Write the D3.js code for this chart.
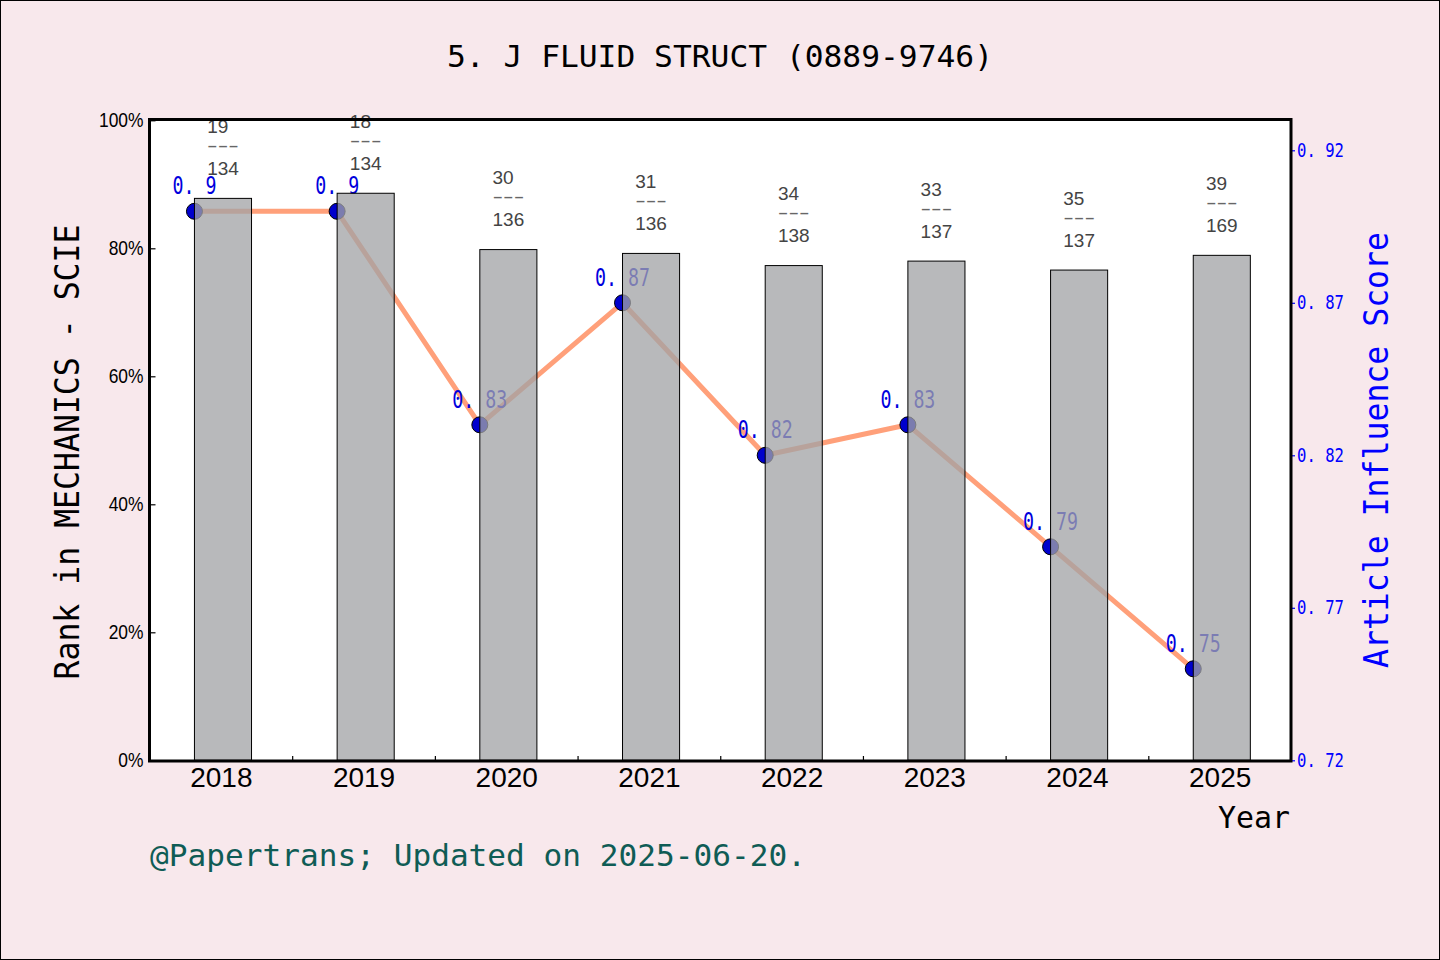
<!DOCTYPE html>
<html><head><meta charset="utf-8">
<script src="https://cdn.jsdelivr.net/npm/d3@7"></script>
<style>html,body{margin:0;padding:0;background:#f8e8ec;} svg{display:block}</style>
</head><body>
<svg id="c" width="1440" height="960"></svg>
<script>
// ---- data ----
const years = [2018, 2019, 2020, 2021, 2022, 2023, 2024, 2025];
const rankPct = [87.8, 88.6, 79.8, 79.2, 77.3, 78.0, 76.6, 78.9];
const rankNum = [19, 18, 30, 31, 34, 33, 35, 39];
const rankTotal = [134, 134, 136, 136, 138, 137, 137, 169];
const aisValues = [0.90, 0.90, 0.83, 0.87, 0.82, 0.83, 0.79, 0.75];
const leftTicks = [0, 20, 40, 60, 80, 100];
const rightTicks = [0.72, 0.77, 0.82, 0.87, 0.92];
const titleText = "5. J FLUID STRUCT (0889-9746)";
const leftTitle = "Rank in MECHANICS - SCIE";
const rightTitle = "Article Influence Score";
const xTitle = "Year";
const footer = "@Papertrans; Updated on 2025-06-20.";

// ---- layout ----
const W = 1440, H = 960;
const L = 149.5, R = 1291, T = 119.5, B = 761;
const MONO = "'DejaVu Sans Mono', 'Liberation Mono', monospace";
const SANS = "'Liberation Sans', Arial, sans-serif";

const svg = d3.select('#c');
svg.append('rect').attr('width', W).attr('height', H).attr('fill', '#f8e8ec');
svg.append('rect').attr('x', 0.5).attr('y', 0.5).attr('width', W - 1).attr('height', H - 1)
  .attr('fill', 'none').attr('stroke', '#000').attr('stroke-width', 1);
svg.append('rect').attr('x', L).attr('y', T).attr('width', R - L).attr('height', B - T).attr('fill', '#fff');

const x = d3.scaleLinear().domain([0, years.length]).range([L, R]);
const yL = d3.scaleLinear().domain([0, 100]).range([760.3, 120.3]);
const yR = d3.scaleLinear().domain([0.72, 0.93]).range([760.3, 119.8]);
const OFF = 0.315, BW = 0.4;

function fit(sel, len) { sel.attr('textLength', len).attr('lengthAdjust', 'spacingAndGlyphs'); }
const fmt = v => String(+v.toFixed(2)).replace('.', '. ');

// line
const line = d3.line().x((d, i) => x(i + OFF)).y(d => yR(d));
svg.append('path').datum(aisValues).attr('d', line)
  .attr('fill', 'none').attr('stroke', '#ffa07a').attr('stroke-width', 5)
  .attr('stroke-linejoin', 'round').attr('stroke-linecap', 'butt');

// dots
svg.selectAll('circle.pt').data(aisValues).join('circle').attr('class', 'pt')
  .attr('cx', (d, i) => x(i + OFF)).attr('cy', d => yR(d)).attr('r', 8)
  .attr('fill', '#0000cd').attr('stroke', '#000').attr('stroke-width', 1);

// value labels
svg.selectAll('text.val').data(aisValues).join('text').attr('class', 'val')
  .attr('x', (d, i) => x(i + OFF)).attr('y', d => yR(d) - 25)
  .attr('text-anchor', 'middle').attr('dominant-baseline', 'central')
  .attr('font-family', MONO).attr('font-size', 24).attr('fill', '#0000dd')
  .text(d => fmt(d))
  .each(function (d) { fit(d3.select(this), fmt(d).length * 11); });

// bars (semi-transparent, on top)
svg.selectAll('rect.bar').data(rankPct).join('rect').attr('class', 'bar')
  .attr('x', (d, i) => x(i + OFF)).attr('width', (d, i) => x(i + OFF + BW) - x(i + OFF))
  .attr('y', d => yL(d)).attr('height', d => yL(0) - yL(d))
  .attr('fill', 'rgb(162,163,166)').attr('fill-opacity', 0.76)
  .attr('stroke', '#000').attr('stroke-width', 1);

// rank labels
years.forEach((yr, i) => {
  const cx = x(i + OFF + BW / 2);
  const top = yL(rankPct[i]);
  const g = svg.append('g').attr('font-family', SANS).attr('font-size', 19).attr('fill', '#444');
  const t1 = g.append('text').attr('y', top - 72).attr('dominant-baseline', 'central').text(rankNum[i]);
  const t2 = g.append('text').attr('y', top - 53).attr('dominant-baseline', 'central').attr('fill', '#666').text('---');
  const t3 = g.append('text').attr('y', top - 30).attr('dominant-baseline', 'central').text(rankTotal[i]);
  const w = Math.max(t1.node().getComputedTextLength(), t3.node().getComputedTextLength());
  fit(t2, w);
  g.selectAll('text').attr('x', cx - w / 2);
});

// left axis
const axL = svg.append('g').attr('transform', `translate(${L},0)`)
  .call(d3.axisLeft(yL).tickValues(leftTicks).tickSizeInner(-6).tickSizeOuter(0).tickPadding(6).tickFormat(d => d + '%'));
axL.select('.domain').remove();
axL.selectAll('.tick line').attr('stroke', '#000').attr('stroke-width', 1.2);
axL.selectAll('.tick text').attr('font-family', SANS).attr('font-size', 20).attr('fill', '#000')
  .each(function () { const n = this.getComputedTextLength(); fit(d3.select(this), n * 0.87); });

// right axis
const axR = svg.append('g').attr('transform', `translate(${R},0)`)
  .call(d3.axisRight(yR).tickValues(rightTicks).tickSizeInner(4).tickSizeOuter(0).tickPadding(2).tickFormat(d => d.toFixed(2).replace('.', '. ')));
axR.select('.domain').remove();
axR.selectAll('.tick line').attr('stroke', 'blue').attr('stroke-width', 1.2);
axR.selectAll('.tick text').attr('font-family', MONO).attr('font-size', 19).attr('fill', 'blue')
  .each(function () { fit(d3.select(this), 47); });

// bottom axis: minor ticks between categories
const axB = svg.append('g').attr('transform', `translate(0,${B})`)
  .call(d3.axisBottom(x).tickValues(d3.range(1, years.length)).tickSizeInner(-5).tickSizeOuter(0).tickFormat(''));
axB.select('.domain').remove();
axB.selectAll('.tick line').attr('stroke', '#000').attr('stroke-width', 1.2);

// bottom axis: year labels
const axY = svg.append('g').attr('transform', `translate(0,${B})`)
  .call(d3.axisBottom(x).tickValues(years.map((d, i) => i + 0.5)).tickSize(0).tickPadding(6)
    .tickFormat((d, i) => years[i]));
axY.select('.domain').remove();
axY.selectAll('.tick text').attr('font-family', SANS).attr('font-size', 28).attr('fill', '#000');

// frame
svg.append('rect').attr('x', L).attr('y', T).attr('width', R - L).attr('height', B - T)
  .attr('fill', 'none').attr('stroke', '#000').attr('stroke-width', 3);

// titles
svg.append('text').attr('x', 720).attr('y', 56).attr('text-anchor', 'middle').attr('dominant-baseline', 'central')
  .attr('font-family', MONO).attr('font-size', 31).attr('fill', '#000').text(titleText).call(fit, 546);

svg.append('text').attr('transform', 'translate(67,452) rotate(-90)').attr('text-anchor', 'middle')
  .attr('dominant-baseline', 'central').attr('font-family', MONO).attr('font-size', 33).attr('fill', '#000')
  .text(leftTitle).call(fit, 455);

svg.append('text').attr('transform', 'translate(1376,450) rotate(-90)').attr('text-anchor', 'middle')
  .attr('dominant-baseline', 'central').attr('font-family', MONO).attr('font-size', 33).attr('fill', 'blue')
  .text(rightTitle).call(fit, 436);

svg.append('text').attr('x', 1218).attr('y', 817).attr('dominant-baseline', 'central')
  .attr('font-family', MONO).attr('font-size', 31).attr('fill', '#000').text(xTitle).call(fit, 72);

svg.append('text').attr('x', 150).attr('y', 855).attr('dominant-baseline', 'central')
  .attr('font-family', MONO).attr('font-size', 31).attr('fill', '#0f5c55').text(footer).call(fit, 656);
</script>
</body></html>
